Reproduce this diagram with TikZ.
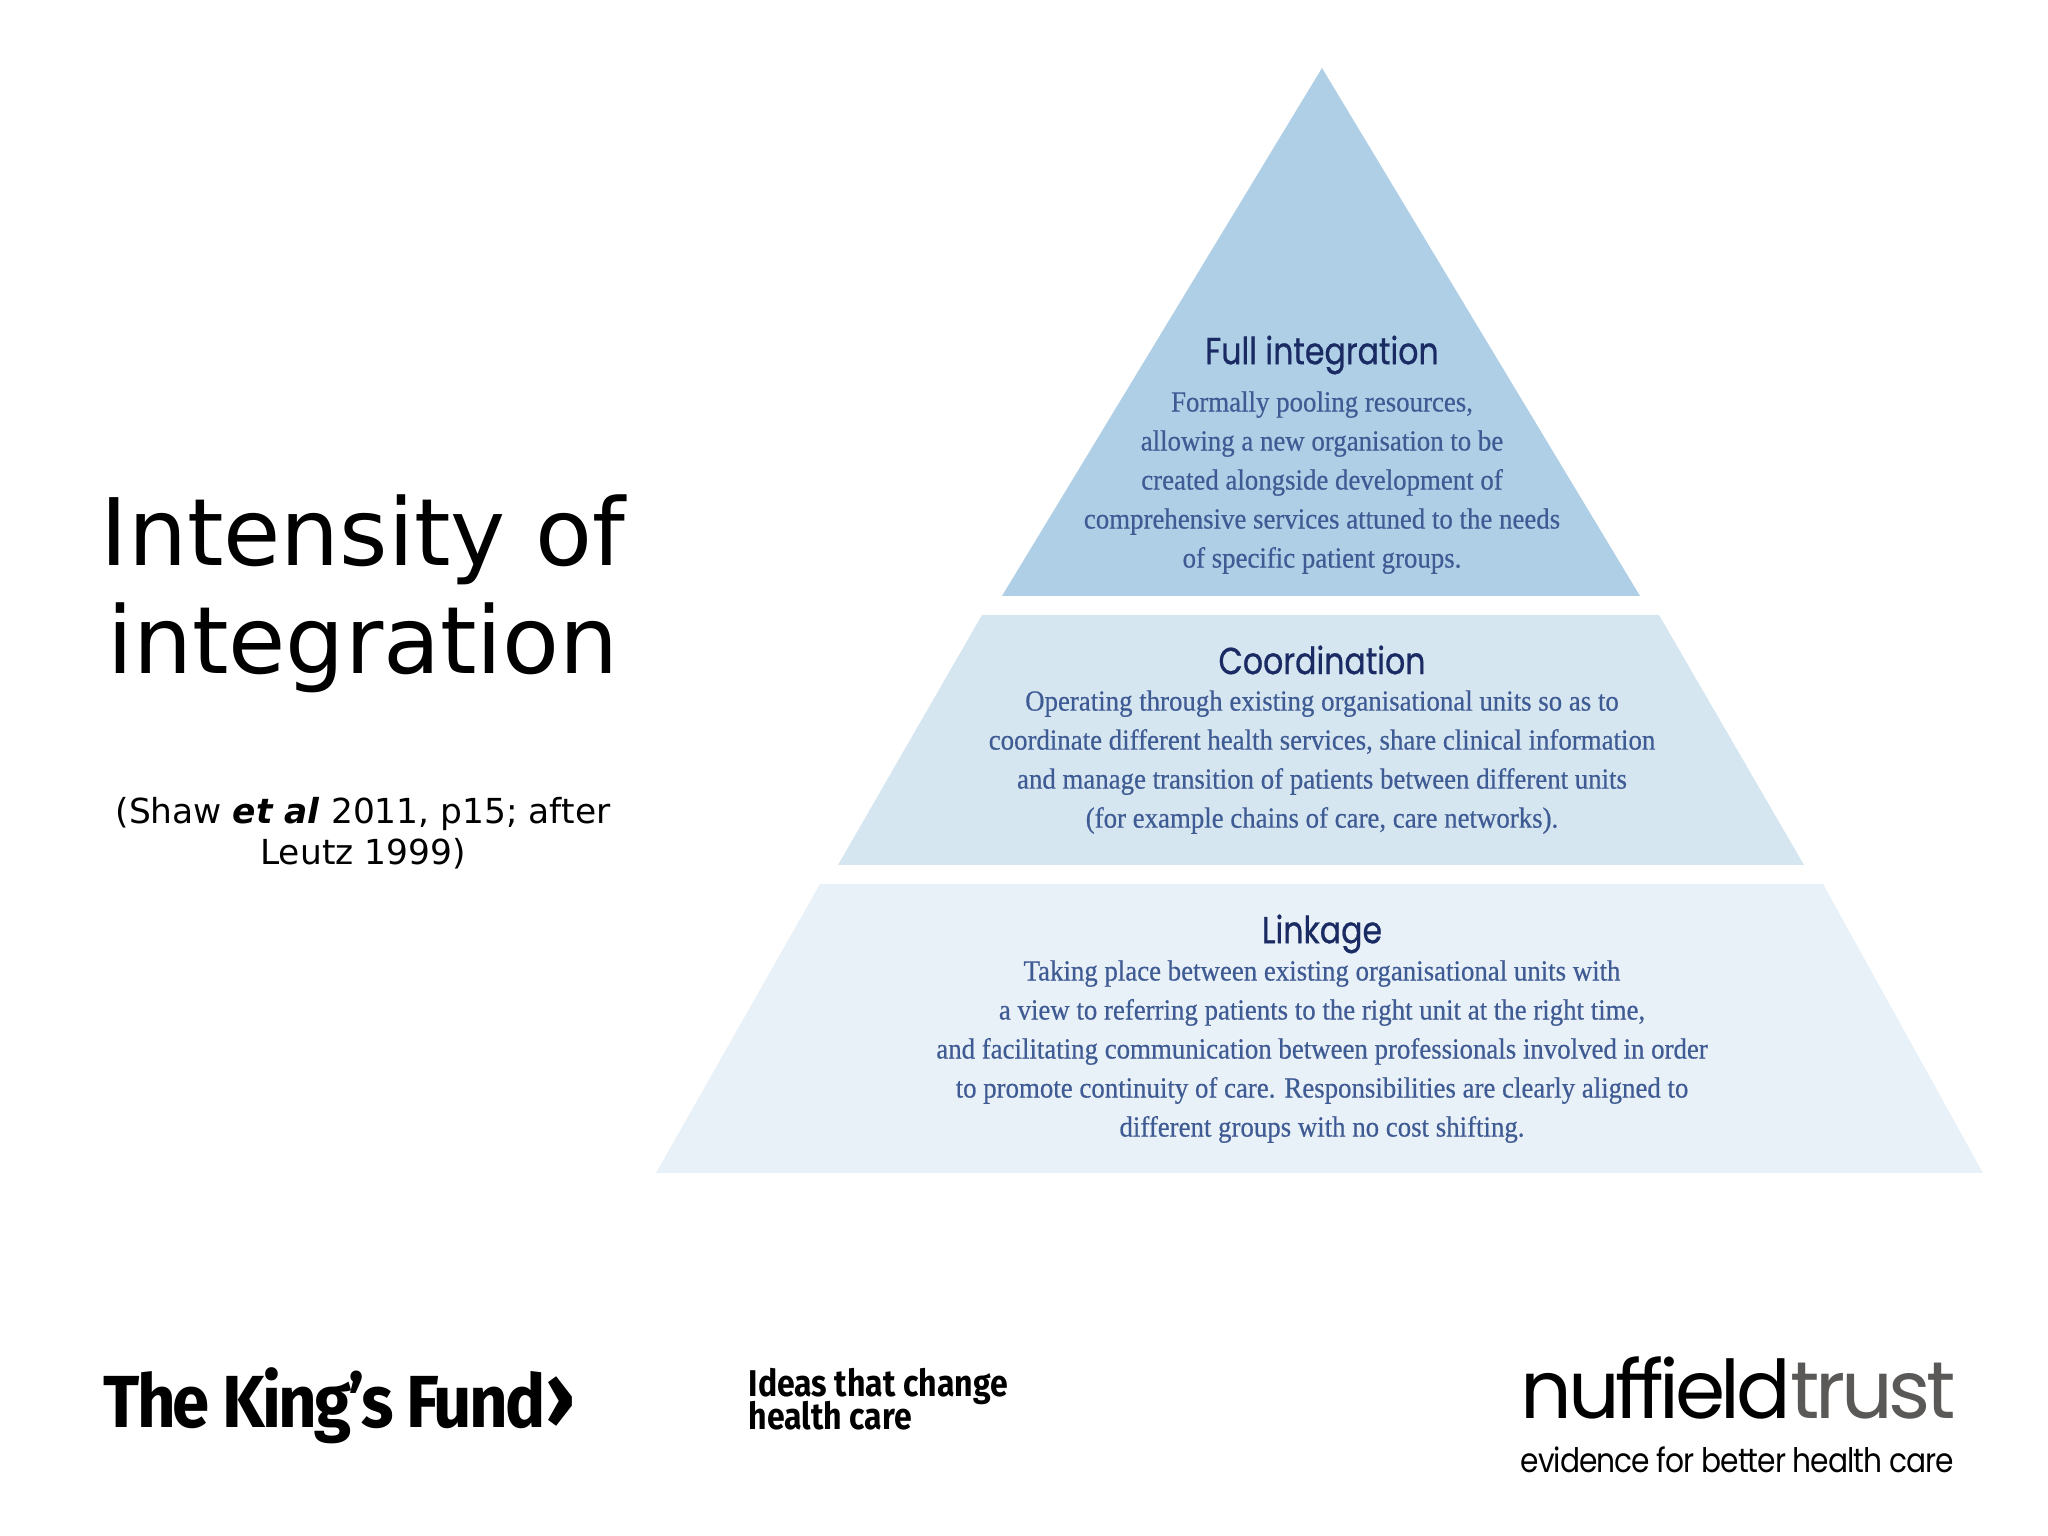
\documentclass[tikz,border=0pt]{standalone}
\usepackage{fontspec}
\usetikzlibrary{positioning}
\setmainfont{DejaVu Sans}
\newfontfamily\bodyfont[FakeStretch=0.92,FakeBold=0.5]{Liberation Serif}
\newfontfamily\headfont[FakeStretch=0.84,FakeBold=0.6]{Poppins}
\newfontfamily\fundfont[LetterSpace=-4.0,FakeStretch=0.91]{Fira Sans}
\newfontfamily\ideasfont[FakeStretch=0.86]{Fira Sans}
\newfontfamily\trustfont[LetterSpace=-5.5]{Poppins}
\newfontfamily\evidencefont[LetterSpace=-3.0,FakeStretch=0.88]{Poppins}
\definecolor{tierTop}{HTML}{AFCFE6}
\definecolor{tierMid}{HTML}{D6E6F1}
\definecolor{tierLow}{HTML}{E9F1F8}
\definecolor{headInk}{HTML}{1A2A62}
\definecolor{bodyInk}{HTML}{3F5B94}
\definecolor{trustGrey}{HTML}{5B5957}

\begin{document}
\begin{tikzpicture}[
    node distance=0.1cm and 1cm,
    heading/.style={text=headInk, inner sep=0pt, font=\headfont\fontsize{10.7}{12}\selectfont},
    body/.style={text=bodyInk, align=center, inner sep=0pt, font=\bodyfont\fontsize{8.3}{11.1}\selectfont}
]
    \useasboundingbox (0,0) rectangle (20.48,15.36);

    % Pyramid tiers
    \fill[tierTop] (13.22,14.68) -- (16.40,9.40) -- (10.02,9.40) -- cycle;
    \fill[tierMid] (9.82,9.21) -- (16.59,9.21) -- (18.04,6.71) -- (8.38,6.71) -- cycle;
    \fill[tierLow] (8.20,6.52) -- (18.23,6.52) -- (19.83,3.63) -- (6.56,3.63) -- cycle;

    % Tier headings and text
    \node (full) [heading] at (13.22,11.81) {Full integration};
    \node (fulltext) [body, below=0.155cm of full] {Formally pooling resources,\\allowing a new organisation to be\\created alongside development of\\comprehensive services attuned to the needs\\of specific patient groups.};
    \node (coord) [heading] at (13.22,8.76) {Coordination};
    \node (coordtext) [body, below=0.145cm of coord] {Operating through existing organisational units so as to\\coordinate different health services, share clinical information\\and manage transition of patients between different units\\(for example chains of care, care networks).};
    \node (linkage) [heading] at (13.22,6.02) {Linkage};
    \node (linktext) [body, below=0.055cm of linkage] {Taking place between existing organisational units with\\a view to referring patients to the right unit at the right time,\\and facilitating communication between professionals involved in order\\to promote continuity of care. Responsibilities are clearly aligned to\\different groups with no cost shifting.};

    % Title on the left
    \node (title) [align=center, inner sep=0pt, font=\fontsize{26.5}{30.7}\selectfont] at (3.63,9.42) {Intensity of\\integration};
    \node (source) [align=center, inner sep=0pt, font=\fontsize{9.8}{11.6}\selectfont] at (3.63,7.03) {(Shaw \textbf{\textit{et al}} 2011, p15; after\\Leutz 1999)};

    % Logos
    \node (fund) [anchor=base west, inner sep=0pt, font=\fundfont\bfseries\fontsize{21}{22}\selectfont] at (1.03,1.08) {The King’s Fund{\fontsize{26}{26}\selectfont ›}};
    \node (ideas) [anchor=north west, align=left, inner sep=0pt, font=\ideasfont\fontsize{10.6}{9.3}\bfseries\selectfont] at (7.48,1.68) {Ideas that change\\[-2.2pt]health care};
    \node (nuffield) [anchor=base west, inner sep=0pt, font=\trustfont\fontsize{23}{24}\selectfont] at (15.2,1.17) {nuffield\textcolor{trustGrey}{trust}};
    \node (evidence) [anchor=base west, inner sep=0pt, font=\evidencefont\fontsize{9.6}{11}\selectfont] at (15.2,0.63) {evidence for better health care};
\end{tikzpicture}
\end{document}
